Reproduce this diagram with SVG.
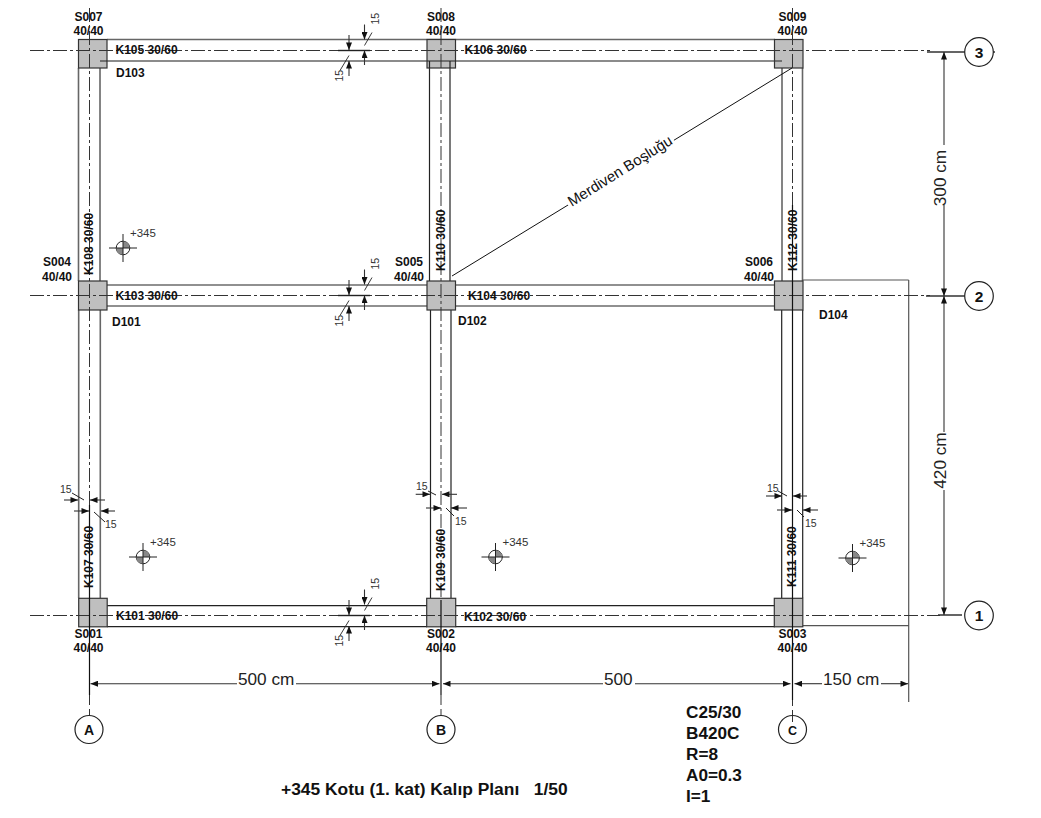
<svg xmlns="http://www.w3.org/2000/svg" width="1041" height="818" viewBox="0 0 1041 818">
<style>
text{font-family:"Liberation Sans",Arial,sans-serif;fill:#111}
.b{font-weight:bold;font-size:12px}
.m{text-anchor:middle}
.d{font-size:17.200px;fill:#222}
.s{font-size:10.500px;fill:#333}
.lv{font-size:11.500px;fill:#333}
.info{font-weight:bold;font-size:17.200px}
.bub{font-weight:bold;font-size:14px;text-anchor:middle}
.bub2{font-weight:bold;font-size:15.500px;text-anchor:middle}
.bubc{font-weight:bold;font-size:12.500px;text-anchor:middle}
.col{fill:#bfbfbf;stroke:#333;stroke-width:1.2}
.beam{stroke:#222;stroke-width:1.2;fill:none}
.beamg{stroke:#666;stroke-width:1.6;fill:none}
.thin{stroke:#555;stroke-width:1.2;fill:none}
.axis{stroke:#333;stroke-width:1;stroke-dasharray:14 3 3 3;fill:none}
.sol{stroke:#111;stroke-width:1.2;fill:none}
.dim{stroke:#444;stroke-width:1.1;fill:none}
.ar{stroke:#333;stroke-width:1.1;fill:none;marker-end:url(#ah)}
.circ{fill:#fff;stroke:#222;stroke-width:1.2}
</style>
<defs>
<marker id="ah" viewBox="0 0 10 8" refX="10" refY="4" markerWidth="8" markerHeight="6" markerUnits="userSpaceOnUse" orient="auto"><path d="M0 0L10 4L0 8z" fill="#111"/></marker>
<g id="lvl">
<circle r="6.800" fill="#fff" stroke="#222"/>
<path d="M0 0V-6.800A6.800 6.800 0 0 1 6.800 0zM0 0V6.800A6.800 6.800 0 0 1 -6.800 0z" fill="#888"/>
<path d="M-14 0H14M0 -14V14" stroke="#222" fill="none"/>
<text class="lv" x="7" y="-11">+345</text>
</g>
<g id="hd">
<path class="ar" d="M15.500 -26V-11"/><path class="ar" d="M15.500 14.500V0"/>
<path class="ar" d="M0 -15.500V-0.500"/><path class="ar" d="M0 25.500V10.500"/>
<path d="M-11 0H21" stroke="#222" stroke-width="1.400"/>
<path d="M15.500 -5L23 -18M0 5L-9 20" stroke="#222" stroke-width=".9"/>
<text class="s" transform="translate(29.500,-26) rotate(-90)">15</text>
<text class="s" transform="translate(-6,31) rotate(-90)">15</text>
</g>
</defs>
<rect width="1041" height="818" fill="#fff"/>

<g id="beams">
<path class="beamg" d="M107 39.500H775M107 61H775"/>
<path class="beam" d="M107 285H427M107 306H427M455.500 285H775M455.500 306H775M107 605.700H427M107 626.700H427M455.500 605.700H775M455.500 626.700H775"/>
<path class="beamg" d="M78.500 68V281M100 68V281M78.700 310V598M100.300 310V598"/>
<path class="beam" d="M429.500 61V281M450 61V281M430.500 310V598M451 310V598"/>
<path class="beamg" d="M782 68V281M802.500 68V281"/>
<path class="beam" d="M781.700 310V598M802.700 310V598"/>
<path class="thin" d="M908.700 280V702M802.500 280H908.700M802.700 625.700H909"/>
</g>

<g id="S007"><rect class="col" x="78.500" y="39.500" width="28.500" height="28.500"/><text class="b m" x="88.500" y="20.500">S007</text><text class="b m" x="88.500" y="35">40/40</text></g>
<g id="S008"><rect class="col" x="427" y="39.500" width="28.500" height="28.500"/><text class="b m" x="441" y="20.500">S008</text><text class="b m" x="441" y="35">40/40</text></g>
<g id="S009"><rect class="col" x="774.500" y="39.500" width="28.500" height="28.500"/><text class="b m" x="792.500" y="20.500">S009</text><text class="b m" x="792.500" y="35">40/40</text></g>
<g id="S004"><rect class="col" x="78.500" y="281" width="28.500" height="29"/><text class="b m" x="57" y="266">S004</text><text class="b m" x="57" y="281">40/40</text></g>
<g id="S005"><rect class="col" x="427" y="281" width="28.500" height="29"/><text class="b m" x="409" y="266">S005</text><text class="b m" x="409" y="281">40/40</text></g>
<g id="S006"><rect class="col" x="774.500" y="281" width="28.500" height="29"/><text class="b m" x="759" y="266">S006</text><text class="b m" x="759" y="281">40/40</text></g>
<g id="S001"><rect class="col" x="78.700" y="598.300" width="28.500" height="28.500"/><text class="b m" x="88.500" y="637.700">S001</text><text class="b m" x="88.500" y="652">40/40</text></g>
<g id="S002"><rect class="col" x="426.700" y="598.300" width="29" height="28.500"/><text class="b m" x="441" y="638">S002</text><text class="b m" x="441" y="652">40/40</text></g>
<g id="S003"><rect class="col" x="774.300" y="598.300" width="28.500" height="28.500"/><text class="b m" x="792.500" y="638">S003</text><text class="b m" x="792.500" y="652">40/40</text></g>

<g id="connectors">
<path class="beam" d="M100 61H107M775 61H782M429.500 61V68M450 61V68M427 61H455.500" stroke-width="1"/>
<path class="axis" d="M30 50.500H930M30 295.500H930M30 615.500H940"/>
<path class="axis" d="M89.500 8V505M441 8V600M792.500 8V205"/>
<path class="sol" d="M89.500 505V695M441 600V695M792.500 205V700"/>
<path d="M89.500 695V705M89.500 709V722M441 695V705M441 709V722M792.500 700V706M792.500 710V722" stroke="#333" fill="none"/>
<path d="M452 276L792 68" stroke="#111" fill="none"/>
<path d="M927 52H995M926 296H965M938 615H962" stroke="#333" stroke-width="1.400" fill="none"/>
<path class="ar" d="M944 145V52"/><path class="ar" d="M944 205V296"/><path class="ar" d="M944 432V296"/><path class="ar" d="M944 490V615"/>
<path class="ar" d="M237 683.700H90.500"/><path class="ar" d="M296 683.700H439.500"/>
<path class="ar" d="M603 683.700H443"/><path class="ar" d="M635 683.700H790.500"/>
<path class="ar" d="M822 683.700H794.500"/><path class="ar" d="M881 683.700H908"/>
<use href="#hd" x="349" y="50.500"/>
<use href="#hd" x="349" y="295.500"/>
<use href="#hd" x="349" y="615.500"/>
<g>
<path class="ar" d="M64 500H78"/><path class="ar" d="M105 500H90"/><path class="ar" d="M74 511H89"/><path class="ar" d="M115 511H101"/>
<path d="M72 493L84 500M94 512L105 522" stroke="#222" fill="none"/>
<path class="ar" d="M415.700 494.300H430"/><path class="ar" d="M457 494.300H442"/><path class="ar" d="M426 508H441"/><path class="ar" d="M467 508H451"/>
<path d="M428 491L436 495M446 508L454 516" stroke="#222" fill="none"/>
<path class="ar" d="M766 496H782"/><path class="ar" d="M807 496H793"/><path class="ar" d="M777 510H792"/><path class="ar" d="M818 510H803"/>
<path d="M778 491L787 496M797 510L804 517" stroke="#222" fill="none"/>
</g>
</g>

<g id="beam-labels">
<text class="b" x="115.500" y="54">K105 30/60</text>
<text class="b" x="464.500" y="54">K106 30/60</text>
<text class="b" x="115.500" y="300">K103 30/60</text>
<text class="b" x="468" y="300">K104 30/60</text>
<text class="b" x="116" y="620">K101 30/60</text>
<text class="b" x="464" y="621">K102 30/60</text>
<text class="b" transform="translate(93,275) rotate(-90)">K108 30/60</text>
<text class="b" transform="translate(445,271) rotate(-90)">K110 30/60</text>
<text class="b" transform="translate(797,271) rotate(-90)">K112 30/60</text>
<text class="b" transform="translate(93,588) rotate(-90)">K107 30/60</text>
<text class="b" transform="translate(445,591) rotate(-90)">K109 30/60</text>
<text class="b" transform="translate(796,587) rotate(-90)">K111 30/60</text>
<text class="b" x="116" y="77">D103</text>
<text class="b" x="112" y="326">D101</text>
<text class="b" x="458" y="325">D102</text>
<text class="b" x="819" y="319">D104</text>
</g>

<g id="dim-labels">
<text class="s" x="60" y="493">15</text><text class="s" x="105" y="528">15</text>
<text class="s" x="416" y="490">15</text><text class="s" x="455" y="525">15</text>
<text class="s" x="767" y="492">15</text><text class="s" x="805" y="527">15</text>
<text class="d" x="238" y="685">500 cm</text>
<text class="d" x="604" y="685">500</text>
<text class="d" x="823" y="685">150 cm</text>
<text class="d m" transform="translate(946,178) rotate(-90)">300 cm</text>
<text class="d m" transform="translate(946,460.500) rotate(-90)">420 cm</text>
<g transform="translate(620,171) rotate(-32)"><rect x="-62" y="-9" width="124" height="17" fill="#fff"/><text class="m" y="5" font-size="15">Merdiven Boşluğu</text></g>
</g>

<g id="levels">
<use href="#lvl" x="123" y="248"/>
<use href="#lvl" x="143" y="557"/>
<use href="#lvl" x="495.500" y="557"/>
<use href="#lvl" x="852.500" y="558"/>
</g>

<g id="axis-A"><circle class="circ" cx="89" cy="729.500" r="14"/><text class="bub" x="89" y="735">A</text></g>
<g id="axis-B"><circle class="circ" cx="441" cy="729.500" r="14"/><text class="bub" x="441" y="735">B</text></g>
<g id="axis-C"><circle class="circ" cx="792.500" cy="729.500" r="14"/><path d="M792.500 716V722" stroke="#333"/><text class="bubc" x="792.500" y="734.500">C</text></g>
<g id="axis-3"><circle class="circ" cx="979" cy="52" r="14.300"/><text class="bub2" x="979" y="57.500">3</text></g>
<g id="axis-2"><circle class="circ" cx="979" cy="296" r="14.300"/><text class="bub2" x="979" y="301.500">2</text></g>
<g id="axis-1"><circle class="circ" cx="979" cy="615.500" r="14.300"/><text class="bub2" x="979" y="621">1</text></g>

<g id="notes">
<text class="info" x="686" y="718">C25/30</text>
<text class="info" x="686" y="739">B420C</text>
<text class="info" x="686" y="760">R=8</text>
<text class="info" x="686" y="781">A0=0.3</text>
<text class="info" x="686" y="802">I=1</text>
<text x="281" y="794.500" font-weight="bold" font-size="17.400" xml:space="preserve">+345 Kotu (1. kat) Kalıp Planı   1/50</text>
</g>
</svg>
